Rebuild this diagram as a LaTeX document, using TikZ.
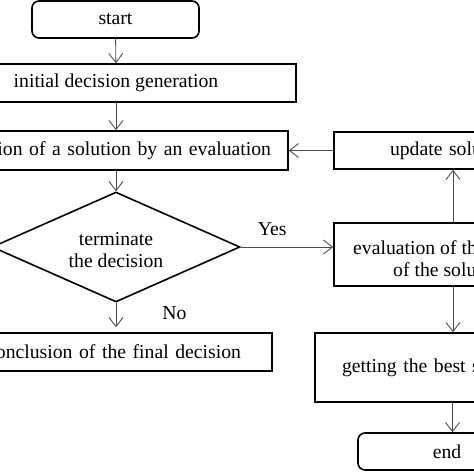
\documentclass[tikz,border=0pt]{standalone}
\usepackage{fontspec}
\setmainfont{Liberation Serif}
\usepackage{tikz}
\usetikzlibrary{arrows.meta,shapes.geometric,positioning}

\begin{document}
\begin{tikzpicture}[
  x=1pt, y=-1pt,
  font=\fontsize{19.7}{22}\selectfont,
  box/.style={draw=black, line width=1.6pt, rectangle, inner ysep=0pt},
  roundbox/.style={box, rounded corners=7pt},
  ]
  \tikzset{%
    flow/.style={
      draw=black!70,
      line width=0.9pt,
      -{Straight Barb[length=9pt,width=14pt]},
    },
    tag/.style={
      inner sep=2pt,
    },
  }
  \useasboundingbox (0,0) rectangle (474,474);
  \clip (0,0) rectangle (474,474);
  %Nodes
  \node[roundbox, minimum width=167pt, minimum height=37pt](start) at (115.5,19.5){start};
  \node[box, minimum width=360pt, minimum height=38pt](init) at (116,83){initial decision generation};
  \node[box, minimum width=344pt, minimum height=39pt, text width=310pt, inner xsep=17pt, align=right](gen) at (116,150.5){tion of a solution by an evaluation};
  \node[diamond, draw=black, line width=1.6pt, aspect=2.25, minimum width=248pt, minimum height=110pt, inner sep=0pt, align=center](cond) at (116,247){\rule{0pt}{19pt}terminate\\the decision};
  \node[box, minimum width=332pt, minimum height=38pt, text width=270pt, inner xsep=31pt, align=right](concl) at (106,352){conclusion of the final decision};
  \node[box, minimum width=226pt, minimum height=37pt, text width=114pt, inner xsep=56pt, align=left](update) at (447,150.5){update solu};
  \node[box, minimum width=238pt, minimum height=63pt](evalsol) at (453,254.5){};
  \node[anchor=base west, inner sep=0pt](evaltop) at (353,254){evaluation of th};
  \node[anchor=base west, inner sep=0pt](evalbot) at (393,276){of the solu};
  \node[box, minimum width=275pt, minimum height=69pt, text width=221pt, inner xsep=27pt, align=left](best) at (452.5,367.5){getting the best s};
  \node[roundbox, minimum width=178pt, minimum height=37pt](end) at (447,451.5){end};
  %Lines
  \draw[flow] (start) -- (init);
  \draw[flow] (init) -- (gen);
  \draw[flow] (gen) -- (cond);
  \draw[flow] (cond.east) -- node[tag, above=9pt, pos=0.34](yes){Yes} (cond.east -| evalsol.west);
  \draw[flow, shorten >=5pt] (cond.south) -- node[tag, right=44pt, pos=0.35](no){No} (cond.south |- concl.north);
  \draw[flow] (evalsol.north) -- (evalsol.north |- update.south);
  \draw[flow] (update.west) -- (update.west -| gen.east);
  \draw[flow] (evalsol.south) -- (evalsol.south |- best.north);
  \draw[flow] (best.south) -- (best.south |- end.north);
\end{tikzpicture}
\end{document}
